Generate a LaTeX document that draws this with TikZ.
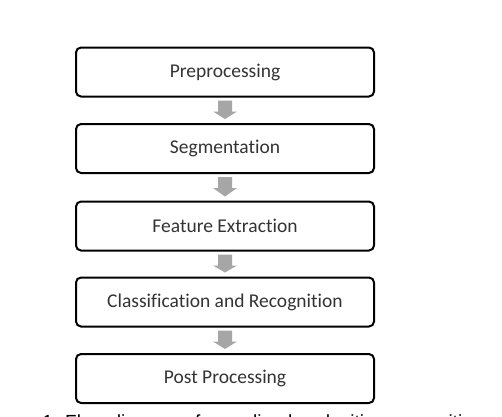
\documentclass[tikz,border=0pt]{standalone}
\usepackage{fontspec}
\setmainfont{Carlito}[Ligatures=NoCommon]
\newfontfamily\capfont{Liberation Sans}
\usetikzlibrary{calc}
\definecolor{arrowgray}{HTML}{A6A6A6}
\definecolor{txtgray}{HTML}{333333}
\begin{document}
\begin{tikzpicture}[x=1pt,y=-1pt,
  stepbox/.style={draw=black,line width=2pt,rounded corners=5pt,fill=white,
    minimum width=298pt,minimum height=49pt,inner sep=0pt,
    text=txtgray,font=\fontsize{19.5}{23}\selectfont},
  flowarrow/.style={fill=arrowgray,draw=none}]
\useasboundingbox (0,0) rectangle (502,416);
\fill[white] (0,0) rectangle (502,416);
\node[stepbox] (a) at (225,72) {Preprocessing};
\node[stepbox] (b) at (225,148.5) {Segmentation};
\node[stepbox] (c) at (225,226) {Feature Extraction};
\node[stepbox] (d) at (225,302) {Classification and Recognition};
\node[stepbox] (e) at (225,378.5) {Post Processing};
\foreach \u/\v in {a/b,b/c,c/d,d/e}{
  \fill[flowarrow] ($(\u.south)+(-7,3)$) -- ++(14,0) -- ++(0,11) -- ++(5,0)
    -- ($(\v.north)+(0,-4)$) -- ($(\u.south)+(-12,14)$) -- ++(5,0) -- cycle;
}
\begin{scope}
\clip (0,0) rectangle (502,416);
\node[anchor=base west,inner sep=0pt,font=\capfont\fontsize{19}{23}\selectfont] (cap) at (-17,428)
  {Figure 1. Flow diagram of an online handwriting recognition system};
\end{scope}
\end{tikzpicture}
\end{document}
